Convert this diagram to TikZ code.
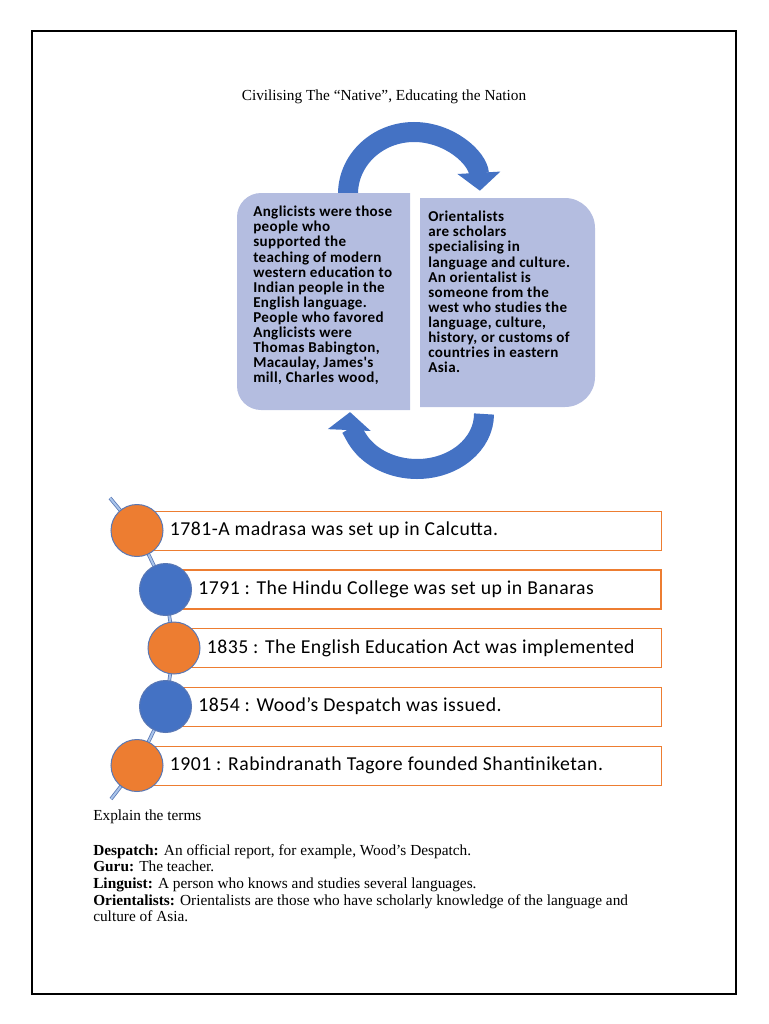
\documentclass[tikz,border=0pt]{standalone}
\usepackage{fontspec}
\setmainfont{Liberation Serif}
\newfontfamily\calfont{Carlito}
\newfontfamily\calspaced[LetterSpace=2.5]{Carlito}
\newfontfamily\calwide[LetterSpace=2.5]{Carlito}
\usetikzlibrary{positioning, arrows.meta, backgrounds}
\definecolor{ofblue}{HTML}{4472C4}
\definecolor{oforange}{HTML}{ED7D31}
\definecolor{boxlav}{HTML}{B4BDE0}
\definecolor{rimblue}{HTML}{5A78B4}
\definecolor{railblue}{HTML}{A9C4EB}

\begin{document}
\begin{tikzpicture}[x=0.75pt, y=-0.75pt,
  cyclearrow/.style={ofblue, line width=15pt, -{Triangle[width=31.5pt, length=13.5pt]}},
  panel/.style={fill=boxlav},
  paneltext/.style={font=\calspaced\bfseries\fontsize{11.3}{11.3}\selectfont, align=left, anchor=north west, inner sep=0pt},
  eventbox/.style={draw=oforange},
  dot/.style={circle, draw=rimblue, line width=0.75pt, minimum size=39pt, inner sep=0pt},
  eventtext/.style={font=\calwide\fontsize{14.8}{16}\selectfont, inner sep=0pt},
  rail/.style={draw=rimblue, double=railblue, double distance=1.5pt, line width=0.6pt},
  bodytext/.style={font=\fontsize{11.5}{12.5}\selectfont, inner sep=0pt},
]
  \useasboundingbox (0,0) rectangle (768,1024);
  \draw[line width=1.5pt] (32,31) rectangle (736,994);

  \node[bodytext] (title) at (384,97) {Civilising The “Native”, Educating the Nation};

  \draw[cyclearrow] (348,194) arc[start angle=180, end angle=357, x radius=66, y radius=62];
  \draw[cyclearrow] (484,414) arc[start angle=0, end angle=182, x radius=67, y radius=55];

  \fill[panel] (410,193) -- (261,193) arc[start angle=270, end angle=180, radius=24]
    -- (237,386) arc[start angle=180, end angle=90, radius=24] -- (410,410) -- cycle;
  \fill[panel] (420,198) -- (565,198) arc[start angle=270, end angle=360, radius=30]
    -- (595,377) arc[start angle=0, end angle=90, radius=30] -- (420,407) -- cycle;

  \node[paneltext] (angl) at (253,206) {Anglicists were those\\people who\\supported the\\teaching of modern\\western education to\\Indian people in the\\English language.\\People who favored\\Anglicists were\\Thomas Babington,\\Macaulay, James's\\mill, Charles wood,};
  \node[paneltext] (orient) at (428,211) {Orientalists\\are scholars\\specialising in\\language and culture.\\An orientalist is\\someone from the\\west who studies the\\language, culture,\\history, or customs of\\countries in eastern\\Asia.};

  \foreach \i/\cx/\cy/\col/\lw/\txt in {
    1/137/530.5/oforange/0.75pt/{1781-A madrasa was set up in Calcutta.},
    2/165.5/589.5/ofblue/1.5pt/{1791 : The Hindu College was set up in Banaras},
    3/174/648/oforange/0.75pt/{1835 : The English Education Act was implemented},
    4/165.5/706.5/ofblue/0.75pt/{1854 : Wood’s Despatch was issued.},
    5/137/765.5/oforange/0.75pt/{1901 : Rabindranath Tagore founded Shantiniketan.}}{
    \draw[eventbox, line width=\lw] (\cx,\cy-19.5) rectangle (661,\cy+19.5);
    \node[dot, fill=\col] (c\i) at (\cx,\cy) {};
    \node[eventtext, right=4.5pt of c\i] (t\i) {\txt};
  }

  \coordinate (railtop) at (110,498);
  \coordinate (railend) at (111,799);
  \begin{scope}[on background layer]
    \draw[rail] (railtop) -- (c1.center) -- (c2.center) -- (c3.center) -- (c4.center) -- (c5.center) -- (railend);
  \end{scope}

  \node[bodytext, anchor=west] (explain) at (93,817) {Explain the terms};
  \node[bodytext, anchor=north west, align=left] (terms) at (93,844) {\textbf{Despatch:} An official report, for example, Wood’s Despatch.\\
    \textbf{Guru:} The teacher.\\
    \textbf{Linguist:} A person who knows and studies several languages.\\
    \textbf{Orientalists:} Orientalists are those who have scholarly knowledge of the language and\\
    culture of Asia.};
\end{tikzpicture}
\end{document}
